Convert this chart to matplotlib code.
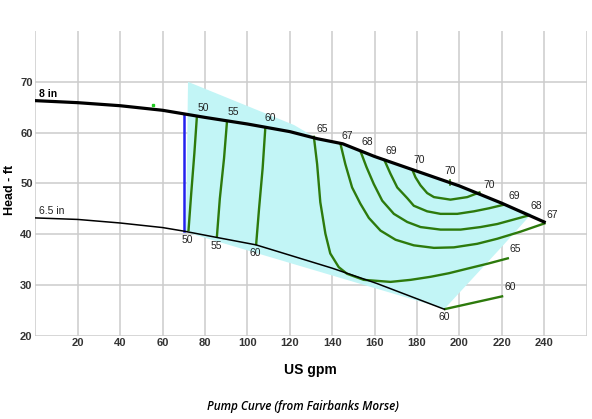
import numpy as np
import matplotlib.pyplot as plt
import matplotlib.patches as mpatches

# impeller curves (US gpm, head ft)
imp8_x = [0, 20, 40, 60, 80, 100, 120, 133, 145, 160, 180, 200, 220, 240]
imp8_y = [66.3, 65.9, 65.3, 64.4, 63.0, 61.7, 60.2, 58.8, 57.8, 55.3, 52.4, 49.5, 46.1, 42.4]
imp65_x = [0, 20, 40, 60, 70, 85, 104, 115, 140, 161, 193]
imp65_y = [43.2, 42.9, 42.2, 41.3, 40.6, 39.4, 37.9, 36.5, 33.3, 30.3, 25.2]

# operating region (light cyan)
region_x = [72, 122, 133, 145, 160, 180, 200, 220, 234, 220, 193, 71]
region_y = [70, 61.5, 58.8, 57.8, 55.3, 52.4, 49.5, 46.1, 44.0, 37.5, 25.3, 40.4]

# efficiency lines
eff_lines = {
    "50": ([72.2, 73.5, 75.0, 76.2], [40.6, 48, 56, 63.3]),
    "55": ([85.6, 87.0, 89.0, 90.4], [39.4, 47, 55, 62.3]),
    "60": ([104.1, 105.5, 107.2, 108.5], [37.8, 45, 53, 61.2]),
    "65": ([131.3, 132.9, 134.4, 136.8, 139.1, 143.1, 147.0, 154.9, 167.5, 177.0,
            186.4, 195.0, 203.7, 213.5, 223.4],
           [59.4, 53.8, 46.3, 40.1, 36.2, 33.5, 32.2, 31.0, 30.6, 31.0,
            31.6, 32.3, 33.2, 34.2, 35.3]),
    "67": ([143.9, 146.2, 149.4, 153.3, 157.3, 162.8, 169.9, 178.5, 188.0, 197.4,
            208.4, 217.9, 228.9, 240.7],
           [57.8, 53.8, 49.2, 46.0, 43.2, 40.7, 38.9, 37.8, 37.3, 37.4,
            38.1, 39.1, 40.5, 42.2]),
    "68": ([153.3, 156.2, 159.6, 163.6, 169.1, 175.4, 181.7, 191.1, 200.6, 210.0,
            217.9, 232.8],
           [56.4, 53.2, 49.9, 46.6, 44.0, 42.4, 41.4, 40.9, 40.9, 41.4,
            42.0, 43.7]),
    "69": ([164.4, 167.5, 170.7, 175.4, 178.5, 184.8, 191.1, 199.0, 206.9, 214.0, 221.0],
           [54.8, 51.9, 49.2, 47.1, 45.6, 44.5, 44.0, 44.0, 44.5, 45.1, 45.8]),
    "70": ([177.7, 179.3, 181.7, 184.8, 188.0, 195.8, 203.7, 210.0],
           [52.8, 51.2, 49.6, 48.1, 47.3, 46.8, 47.3, 48.3]),
    "60b": ([192.7, 220.7], [25.2, 27.8]),
}
blue_x = [70, 70]
blue_y = [40.6, 63.6]

# efficiency labels
lab_x = [79.3, 93.5, 110.8, 135.2, 147, 156.8, 168, 180.9, 195.5, 213.9, 225.8, 236.5, 243.9,
         226.5, 223.9, 192.7, 71.8, 85.2, 103.7]
lab_y = [64.8, 64.0, 62.9, 60.7, 59.4, 58.1, 56.4, 54.6, 52.5, 49.7, 47.6, 45.6, 43.7,
         37.0, 29.5, 23.6, 38.9, 37.6, 36.3]
lab_t = ["50", "55", "60", "65", "67", "68", "69", "70", "70", "70", "69", "68", "67",
         "65", "60", "60", "50", "55", "60"]

x_ticks = list(range(0, 261, 20))
x_labels = [str(v) if 0 < v < 260 else "" for v in x_ticks]
y_ticks = [20, 30, 40, 50, 60, 70]

GREEN = "#2d7a0c"
CYAN = "#c2f5f6"

plt.rcParams["font.family"] = ["Liberation Sans", "DejaVu Sans"]

fig = plt.figure(figsize=(5.92, 4.19), dpi=100)
ax = fig.add_axes([0.0598, 0.1988, 0.931, 0.727])

ax.add_patch(mpatches.Polygon(list(zip(region_x, region_y)), closed=True,
                              facecolor=CYAN, edgecolor="none", zorder=1))

for key, (xs, ys) in eff_lines.items():
    ax.plot(xs, ys, color=GREEN, lw=1.7, zorder=3, solid_capstyle="butt",
            solid_joinstyle="round")
ax.plot([195.8, 195.8], [49.6, 50.6], color=GREEN, lw=1.2, zorder=3)
ax.plot(blue_x, blue_y, color="#2222ee", lw=1.8, zorder=3)

ax.plot(imp8_x, imp8_y, color="black", lw=2.3, zorder=4, solid_joinstyle="round")
ax.plot(imp65_x, imp65_y, color="black", lw=1.1, zorder=4, solid_joinstyle="round")
ax.plot([55.4], [65.4], marker="s", ms=2, color="#22cc22", zorder=4)

for x, y, t in zip(lab_x, lab_y, lab_t):
    ax.text(x, y, t, fontsize=7.5, color="#222222", ha="center", va="center", zorder=5)
ax.text(1.5, 67.6, "8 in", fontsize=7.5, color="black", fontweight="bold", va="center")
ax.text(1.5, 44.5, "6.5 in", fontsize=7.5, color="#222222", va="center")

ax.set_xlim(0, 260)
ax.set_ylim(20, 80)
ax.set_xticks(x_ticks)
ax.set_xticklabels(x_labels)
ax.set_yticks(y_ticks)
ax.tick_params(length=0, labelsize=8, colors="#333333", pad=2)
for lab in ax.get_xticklabels() + ax.get_yticklabels():
    lab.set_fontweight("bold")
ax.grid(True, color="#cccccc", lw=1.1)
ax.set_axisbelow(True)
for s in ax.spines.values():
    s.set_visible(False)

fig.text(0.017, 0.547, "Head - ft", rotation=90, fontsize=9, fontweight="bold",
         ha="center", va="center")
fig.text(0.525, 0.117, "US gpm", fontsize=10, fontweight="bold", ha="center", va="center")
fig.text(0.512, 0.029, "Pump Curve (from Fairbanks Morse)", fontsize=8.5,
         family=["Open Sans", "DejaVu Sans"], style="italic", fontweight="semibold",
         ha="center", va="center")

fig.savefig("out.png", dpi=100)
